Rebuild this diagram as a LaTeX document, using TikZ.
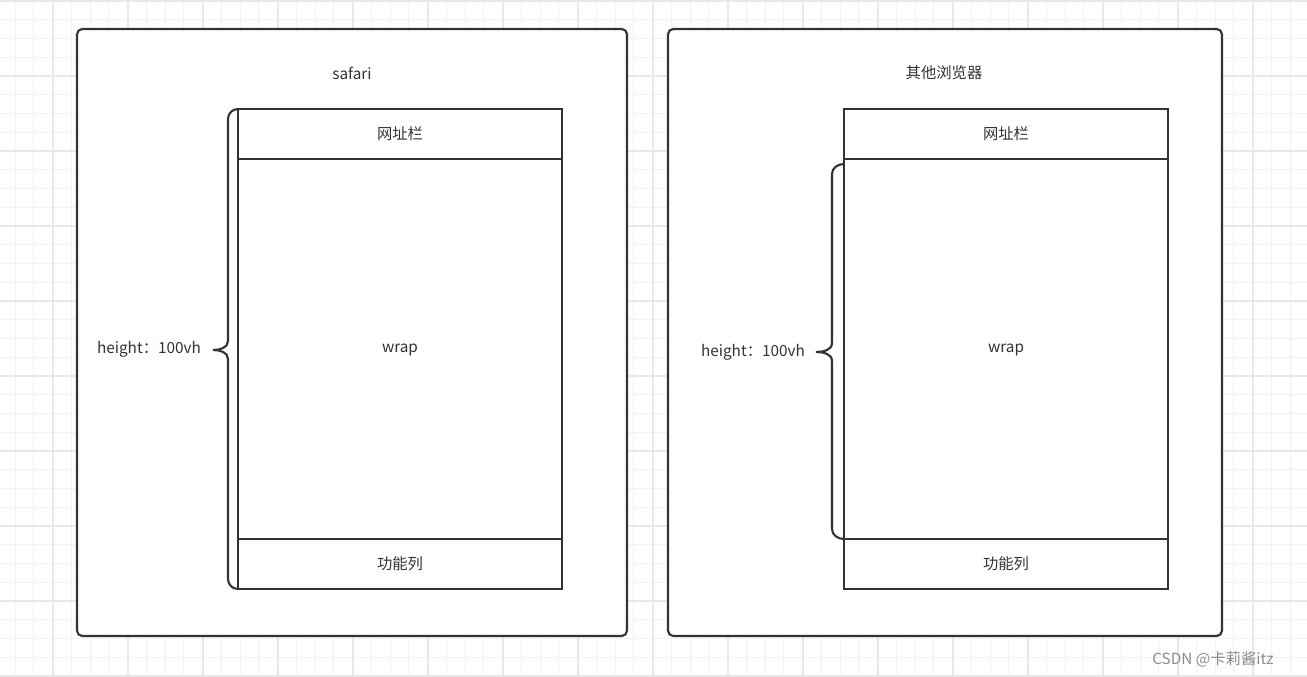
\documentclass[tikz,border=0pt]{standalone}
\usepackage{fontspec}
\setmainfont{Liberation Sans}
\newfontfamily\cjk{Noto Sans CJK SC}
\begin{document}
\begin{tikzpicture}[x=0.75pt,y=-0.75pt,
  box/.style={draw=black!80,line width=1.6pt},
  lbl/.style={font=\fontsize{11.5}{13}\selectfont\cjk,text=black!80},
  brc/.style={draw=black!80,line width=1.6pt}]
\useasboundingbox (0,0) rectangle (1307,677);
\fill[white] (0,0) rectangle (1307,677);
\foreach \i in {0,...,70} \draw[black!5,line width=0.6pt] ({-3.75+\i*18.75},0) -- ++(0,677);
\foreach \i in {0,...,36} \draw[black!5,line width=0.6pt] (0,{1+\i*18.75}) -- ++(1307,0);
\foreach \i in {0,...,17} \draw[black!9,line width=0.8pt] ({53+(\i-1)*75},0) -- ++(0,677);
\foreach \i in {0,...,9} \draw[black!9,line width=0.8pt] (0,{1+\i*75}) -- ++(1307,0);
% outer boxes
\draw[box,fill=white,rounded corners=4] (77,29) rectangle (627,636);
\draw[box,fill=white,rounded corners=4] (668,29) rectangle (1222,636);
\node[lbl] (t1) at (352,73) {safari};
\node[lbl] (t2) at (944,73) {其他浏览器};
% inner left
\draw[box] (238,109) rectangle (562,589);
\draw[box] (238,159) -- (562,159);
\draw[box] (238,539) -- (562,539);
\node[lbl] (h1) at (400,134) {网址栏};
\node[lbl] (w1) at (400,350) {wrap};
\node[lbl] (f1) at (400,564) {功能列};
% inner right
\draw[box] (844,109) rectangle (1168,589);
\draw[box] (844,159) -- (1168,159);
\draw[box] (844,539) -- (1168,539);
\node[lbl] (h2) at (1006,134) {网址栏};
\node[lbl] (w2) at (1006,350) {wrap};
\node[lbl] (f2) at (1006,564) {功能列};
% braces
\draw[brc] (238,109) to[out=180,in=90] (228,119) -- (228,341) to[out=-90,in=0] (213,350) to[out=0,in=90] (228,359) -- (228,579) to[out=-90,in=180] (238,589);
\draw[brc] (844,164) to[out=180,in=90] (832,174) -- (832,343) to[out=-90,in=0] (816,352) to[out=0,in=90] (832,361) -- (832,529) to[out=-90,in=180] (844,539);
\node[lbl] (b1) at (149,349) {height：100vh};
\node[lbl] (b2) at (753,352) {height：100vh};
\node[font=\fontsize{11.5}{13}\selectfont\cjk,text=black!45] (wm) at (1213,659) {CSDN @卡莉酱itz};
\end{tikzpicture}
\end{document}
